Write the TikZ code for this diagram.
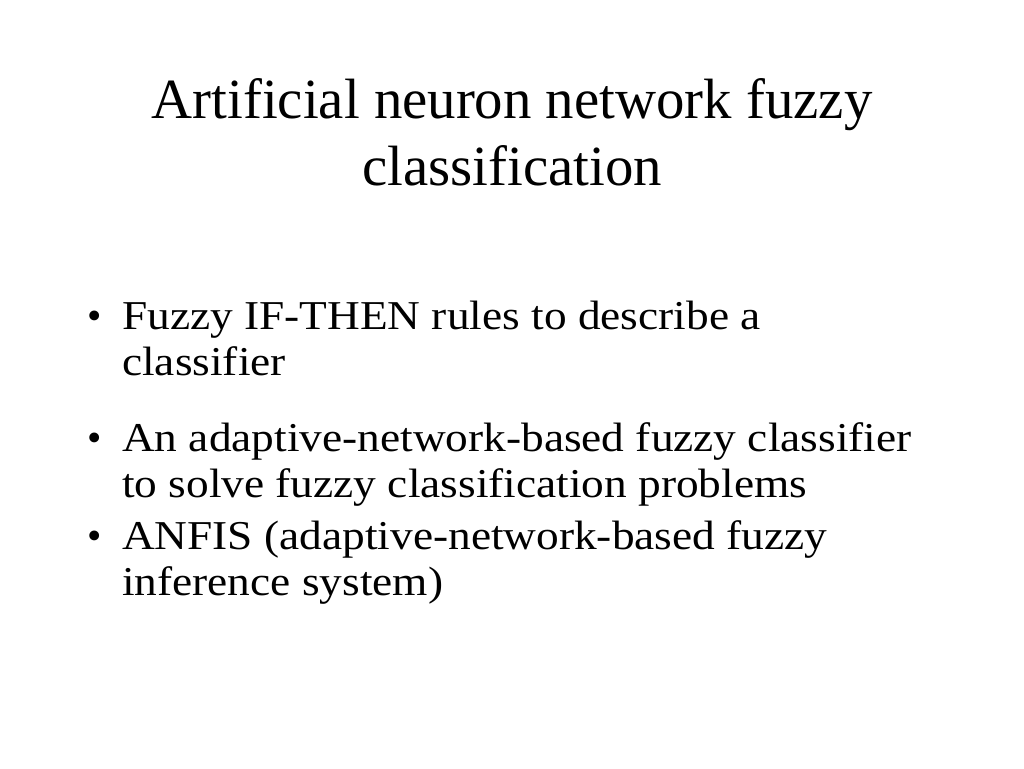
\documentclass[tikz,border=0pt]{standalone}
\usepackage{fontspec}
\setmainfont{Liberation Serif}
\newfontfamily\bodyfont{Liberation Serif}[FakeStretch=1.106]
\begin{document}
\begin{tikzpicture}[x=1pt,y=-1pt,
  title/.style={anchor=base,inner sep=0pt,font=\fontsize{56.8}{67}\selectfont},
  body/.style={anchor=base west,inner sep=0pt,font=\bodyfont\fontsize{41}{46}\selectfont},
  bul/.style={anchor=base west,inner sep=0pt,font=\fontsize{41}{46}\selectfont}]
\useasboundingbox[fill=white] (0,0) rectangle (1024,768);
\node[title] (t1) at (512,118) {Artificial neuron network fuzzy};
\node[title] (t2) at (512,185) {classification};
\node[bul] (b1) at (87,329) {•};
\node[body] (l1a) at (122,329) {Fuzzy IF-THEN rules to describe a};
\node[body] (l1b) at (122,375) {classifier};
\node[bul] (b2) at (87,451) {•};
\node[body] (l2a) at (122,451) {An adaptive-network-based fuzzy classifier};
\node[body] (l2b) at (122,497) {to solve fuzzy classification problems};
\node[bul] (b3) at (87,549) {•};
\node[body] (l3a) at (122,549) {ANFIS (adaptive-network-based fuzzy};
\node[body] (l3b) at (122,595) {inference system)};
\end{tikzpicture}
\end{document}
